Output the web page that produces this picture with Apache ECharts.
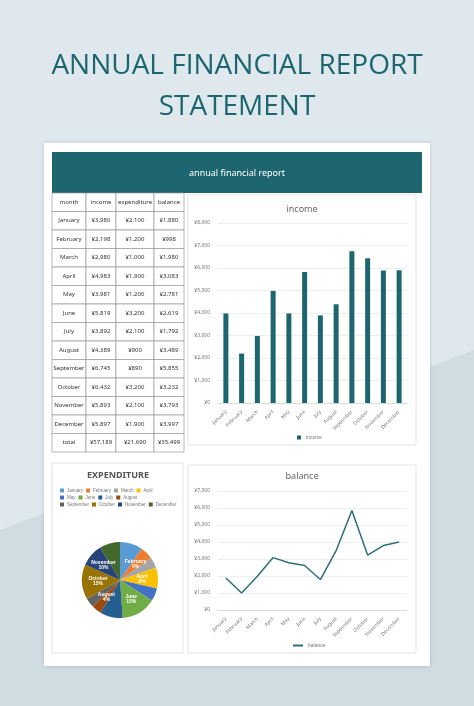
<!DOCTYPE html>
<html><head><meta charset="utf-8">
<script src="https://cdn.jsdelivr.net/npm/echarts@6/dist/echarts.min.js"></script>
<style>html,body{margin:0;padding:0;}#c{width:474px;height:706px;}</style>
</head><body><div id="c"></div>
<script>
const months = ['January','February','March','April','May','June','July','August','September','October','November','December'];
const income = [3980,2198,2980,4983,3981,5819,3892,4389,6745,6432,5893,5897];
const expenditure = [2100,1200,1000,1900,1200,3200,2100,900,890,3200,2100,1900];
const balance = [1880,998,1980,3083,2781,2619,1792,3489,5855,3232,3793,3997];
const totals = ['¥57,189','¥21,690','¥35,499'];
const tableHead = ['month','income','expenditure','balance'];
const pieColors = ['#5b9bd5','#ed7d31','#a5a5a5','#ffc000','#4472c4','#70ad47','#255e91','#9e480e','#636363','#997300','#264478','#43682b'];
const teal = '#1d6670';
const fmt = v => '¥' + v.toLocaleString('en-US');

const F = 'Noto Sans';
const g = [];
g.push({type:'rect',shape:{x:0,y:0,width:474,height:706},style:{fill:'#dfe8ec'},z:-10});
g.push({type:'polygon',shape:{points:[[0,530],[474,350],[474,706],[0,706]]},style:{fill:'#cfdde3'},z:-9});
g.push({type:'text',style:{text:'ANNUAL FINANCIAL REPORT',x:237,y:66,align:'center',verticalAlign:'middle',font:'28px "Open Sans"',fill:teal}});
g.push({type:'text',style:{text:'STATEMENT',x:237,y:107,align:'center',verticalAlign:'middle',font:'28px "Open Sans"',fill:teal}});
g.push({type:'rect',shape:{x:44,y:143,width:386,height:523},style:{fill:'#fff',shadowBlur:4,shadowColor:'rgba(0,0,0,0.15)'},z:-5});
g.push({type:'rect',shape:{x:52,y:152,width:370,height:41},style:{fill:teal},z:-4});
g.push({type:'text',style:{text:'annual financial report',x:237,y:173,align:'center',verticalAlign:'middle',font:'9px '+F,fill:'#fff'}});
[[188,195,228,250],[52,463,131,190],[188,465,228,188]].forEach(p=>g.push({type:'rect',shape:{x:p[0],y:p[1],width:p[2],height:p[3]},style:{fill:'#fff',stroke:'#e4e4e4',lineWidth:1},z:-3}));
const cols=[52,86,116,154,184], tTop=193, rh=(452-193)/14;
const rows=[tableHead].concat(months.map((m,i)=>[m,fmt(income[i]),fmt(expenditure[i]),fmt(balance[i])])).concat([['total'].concat(totals)]);
rows.forEach((r,ri)=>{
  const y=tTop+ri*rh;
  r.forEach((t,ci)=>{
    g.push({type:'rect',shape:{x:cols[ci],y:y,width:cols[ci+1]-cols[ci],height:rh},style:{fill:'#fff',stroke:'#9a9a9a',lineWidth:0.7},z:-2});
    g.push({type:'text',style:{text:t,x:(cols[ci]+cols[ci+1])/2,y:y+rh/2,align:'center',verticalAlign:'middle',font:'6px '+F,fill:'#333'}});
  });
});
g.push({type:'text',style:{text:'EXPENDITURE',x:118,y:475,align:'center',verticalAlign:'middle',font:'bold 9px '+F,fill:'#555'}});
g.push({type:'text',style:{text:'income',x:302,y:209,align:'center',verticalAlign:'middle',font:'9px '+F,fill:'#666'}});
g.push({type:'text',style:{text:'balance',x:302,y:476,align:'center',verticalAlign:'middle',font:'9px '+F,fill:'#666'}});

const axisX = (gi)=>({type:'category',gridIndex:gi,data:months,axisTick:{show:false},axisLine:{lineStyle:{color:'#d9d9d9'}},axisLabel:{rotate:45,fontSize:5,color:'#777',interval:0,fontFamily:F}});
const axisY = (gi,max)=>({type:'value',gridIndex:gi,min:0,max:max,interval:1000,splitLine:{lineStyle:{color:'#eeeeee'}},axisLabel:{fontSize:5,color:'#777',fontFamily:F,formatter:v=>'¥'+v.toLocaleString('en-US')}});
const pieLegend = (items,y)=>({data:items,left:60,top:y,itemWidth:4,itemHeight:4,itemGap:3,padding:0,icon:'rect',textStyle:{fontSize:4.5,color:'#777',width:22,padding:[0,0,0,-2]}});

const chart = echarts.init(document.getElementById('c'));
chart.setOption({
  animation:false,
  graphic:g,
  grid:[{left:218,right:67,top:223,height:180},{left:218,right:67,top:491,height:119}],
  xAxis:[axisX(0),axisX(1)],
  yAxis:[axisY(0,8000),axisY(1,7000)],
  legend:[
    {data:['income'],left:292,top:430,itemWidth:4,itemHeight:4,icon:'rect',textStyle:{fontSize:5,color:'#777'}},
    {data:['balance'],left:288,top:638,itemWidth:10,itemHeight:2,icon:'rect',textStyle:{fontSize:5,color:'#777'}},
    pieLegend(months.slice(0,4),488),pieLegend(months.slice(4,8),495),pieLegend(months.slice(8,12),502)
  ],
  series:[
    {name:'income',type:'bar',xAxisIndex:0,yAxisIndex:0,data:income,barWidth:5,itemStyle:{color:teal}},
    {name:'balance',type:'line',xAxisIndex:1,yAxisIndex:1,data:balance,symbol:'none',lineStyle:{color:'#2e6f7b',width:1.5},itemStyle:{color:'#2e6f7b'}},
    {name:'expenditure',type:'pie',center:[120,580],radius:38,startAngle:90,clockwise:true,
     data:months.map((m,i)=>({name:m,value:expenditure[i],itemStyle:{color:pieColors[i]}})),
     label:{position:'inside',formatter:p=>p.name+'\n'+Math.round(p.percent)+'%',fontSize:5,color:'#fff',fontWeight:'bold'},
     labelLine:{show:false}}
  ]
});
</script></body></html>
